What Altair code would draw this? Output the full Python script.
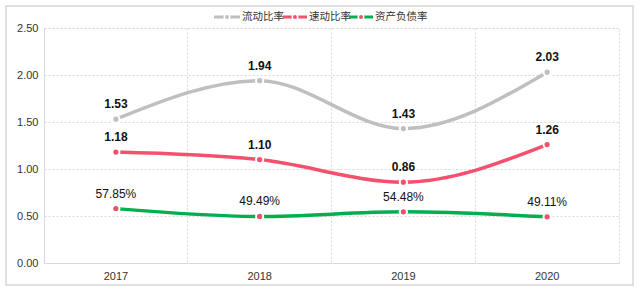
import altair as alt
import pandas as pd

# Financial ratios by year
years = ["2017", "2018", "2019", "2020"]
current_ratio = [1.53, 1.94, 1.43, 2.03]      # 流动比率
quick_ratio = [1.18, 1.10, 0.86, 1.26]        # 速动比率
debt_ratio = [0.5785, 0.4949, 0.5448, 0.4911]  # 资产负债率

y_ticks = [0, 0.5, 1.0, 1.5, 2.0, 2.5]

LATIN = "Liberation Sans"
CJK = "Noto Sans CJK SC"
GRID = "#d9d9d9"

# name, values, line colour, dot colour, label format, label weight
series = [
    ("流动比率", current_ratio, "#bfbfbf", "#bfbfbf", ".2f", "bold"),
    ("速动比率", quick_ratio, "#f5506e", "#f5506e", ".2f", "bold"),
    ("资产负债率", debt_ratio, "#00b04f", "#ee4f6b", ".2%", "normal"),
]

x_enc = alt.X(
    "year:O",
    scale=alt.Scale(type="band", domain=years, paddingInner=0, paddingOuter=0),
    axis=alt.Axis(
        title=None, labelAngle=0, ticks=False, grid=True, bandPosition=0,
        gridDash=[2, 2], gridColor=GRID, domainColor=GRID,
        labelFont=LATIN, labelFontSize=11, labelColor="#333333", labelPadding=7,
    ),
)
y_enc = alt.Y(
    "value:Q",
    scale=alt.Scale(domain=[0, 2.5], nice=False),
    axis=alt.Axis(
        title=None, values=y_ticks, format=".2f", ticks=False,
        gridDash=[2, 2], gridColor=GRID, domainColor=GRID,
        labelFont=LATIN, labelFontSize=11, labelColor="#333333", labelPadding=6,
    ),
)

layers = []

# outer frame around the whole chart
frame = alt.Chart(pd.DataFrame({"k": [0]})).mark_rect(
    fillOpacity=0, stroke="#d6d6d6", strokeWidth=1.5, clip=False
).encode(
    x=alt.value(-38), x2=alt.value(589), y=alt.value(-22), y2=alt.value(257)
)
layers.append(frame)

for name, vals, line_color, dot_color, fmt, weight in series:
    df = pd.DataFrame({"year": years, "value": vals})
    base = alt.Chart(df).encode(x=x_enc, y=y_enc)
    layers.append(
        base.mark_line(color=line_color, strokeWidth=3.5, interpolate="monotone")
    )
    layers.append(
        base.mark_point(
            filled=True, fill=dot_color, stroke="white", strokeWidth=2,
            size=52, opacity=1,
        )
    )
    layers.append(
        base.mark_text(
            font=LATIN, fontSize=12, fontWeight=weight, color="#111111",
            baseline="bottom", dy=-8,
        ).encode(text=alt.Text("value:Q", format=fmt))
    )

# legend row across the top
legend_items = [(170, 196, 198), (239, 263, 265), (305, 329, 331)]
one = pd.DataFrame({"k": [0]})
for (name, _, line_color, dot_color, _, _), (x0, x1, tx) in zip(series, legend_items):
    layers.append(
        alt.Chart(one).mark_rule(color=line_color, strokeWidth=3).encode(
            x=alt.value(x0), x2=alt.value(x1), y=alt.value(-11)
        )
    )
    layers.append(
        alt.Chart(one).mark_point(
            filled=True, fill=dot_color, stroke="white", strokeWidth=1.5,
            size=30, opacity=1,
        ).encode(x=alt.value((x0 + x1) / 2), y=alt.value(-11))
    )
    layers.append(
        alt.Chart(one).mark_text(
            text=name, font=CJK, fontSize=10.5, color="#333333",
            align="left", baseline="middle",
        ).encode(x=alt.value(tx), y=alt.value(-11))
    )

chart = alt.layer(*layers).properties(
    width=575,
    height=235,
    autosize=alt.AutoSizeParams(type="none"),
    padding={"left": 44, "top": 28, "right": 21, "bottom": 28},
    background="white",
).configure_view(
    stroke=GRID, strokeDash=[2, 2]
)

chart.save("out.html", embed_options={"renderer": "svg", "actions": False})
